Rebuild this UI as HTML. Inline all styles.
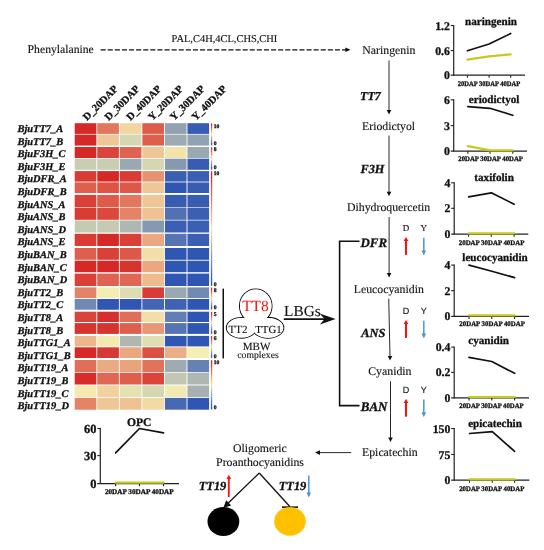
<!DOCTYPE html>
<html><head><meta charset="utf-8"><title>Figure</title>
<style>html,body{margin:0;padding:0;background:#fff;}svg{display:block;}</style></head>
<body>
<svg width="544" height="550" viewBox="0 0 544 550" text-rendering="geometricPrecision">
<rect width="544" height="550" fill="#fff"/>
<g shape-rendering="auto">
<rect x="74.70" y="123.20" width="21.65" height="10.70" fill="#d62826"/>
<rect x="97.25" y="123.20" width="21.65" height="10.70" fill="#e2775e"/>
<rect x="119.80" y="123.20" width="21.65" height="10.70" fill="#f1d6a1"/>
<rect x="142.35" y="123.20" width="21.65" height="10.70" fill="#de5b4a"/>
<rect x="164.90" y="123.20" width="21.65" height="10.70" fill="#92a2b2"/>
<rect x="187.45" y="123.20" width="21.65" height="10.70" fill="#375cb2"/>
<rect x="74.70" y="134.60" width="21.65" height="11.00" fill="#d62826"/>
<rect x="97.25" y="134.60" width="21.65" height="11.00" fill="#efc696"/>
<rect x="119.80" y="134.60" width="21.65" height="11.00" fill="#d5d6b2"/>
<rect x="142.35" y="134.60" width="21.65" height="11.00" fill="#df5f4d"/>
<rect x="164.90" y="134.60" width="21.65" height="11.00" fill="#9eabb2"/>
<rect x="187.45" y="134.60" width="21.65" height="11.00" fill="#92a2b2"/>
<rect x="74.70" y="147.00" width="21.65" height="11.00" fill="#d62826"/>
<rect x="97.25" y="147.00" width="21.65" height="11.00" fill="#da443a"/>
<rect x="119.80" y="147.00" width="21.65" height="11.00" fill="#df6350"/>
<rect x="142.35" y="147.00" width="21.65" height="11.00" fill="#efc696"/>
<rect x="164.90" y="147.00" width="21.65" height="11.00" fill="#f3e2aa"/>
<rect x="187.45" y="147.00" width="21.65" height="11.00" fill="#9aa8b2"/>
<rect x="74.70" y="158.70" width="21.65" height="11.10" fill="#c9cdb2"/>
<rect x="97.25" y="158.70" width="21.65" height="11.10" fill="#c9cdb2"/>
<rect x="119.80" y="158.70" width="21.65" height="11.10" fill="#9aa8b2"/>
<rect x="142.35" y="158.70" width="21.65" height="11.10" fill="#d5d6b2"/>
<rect x="164.90" y="158.70" width="21.65" height="11.10" fill="#8699b2"/>
<rect x="187.45" y="158.70" width="21.65" height="11.10" fill="#375cb2"/>
<rect x="74.70" y="171.10" width="21.65" height="10.50" fill="#d93c34"/>
<rect x="97.25" y="171.10" width="21.65" height="10.50" fill="#d62826"/>
<rect x="119.80" y="171.10" width="21.65" height="10.50" fill="#d93c34"/>
<rect x="142.35" y="171.10" width="21.65" height="10.50" fill="#e79372"/>
<rect x="164.90" y="171.10" width="21.65" height="10.50" fill="#3b5fb2"/>
<rect x="187.45" y="171.10" width="21.65" height="10.50" fill="#3b5fb2"/>
<rect x="74.70" y="182.40" width="21.65" height="10.60" fill="#df5f4d"/>
<rect x="97.25" y="182.40" width="21.65" height="10.60" fill="#dd5445"/>
<rect x="119.80" y="182.40" width="21.65" height="10.60" fill="#dd5848"/>
<rect x="142.35" y="182.40" width="21.65" height="10.60" fill="#efc696"/>
<rect x="164.90" y="182.40" width="21.65" height="10.60" fill="#2f56b2"/>
<rect x="187.45" y="182.40" width="21.65" height="10.60" fill="#375cb2"/>
<rect x="74.70" y="194.90" width="21.65" height="12.50" fill="#da4037"/>
<rect x="97.25" y="194.90" width="21.65" height="12.50" fill="#de5b4a"/>
<rect x="119.80" y="194.90" width="21.65" height="12.50" fill="#e2775e"/>
<rect x="142.35" y="194.90" width="21.65" height="12.50" fill="#efc696"/>
<rect x="164.90" y="194.90" width="21.65" height="12.50" fill="#375cb2"/>
<rect x="187.45" y="194.90" width="21.65" height="12.50" fill="#375cb2"/>
<rect x="74.70" y="208.00" width="21.65" height="11.80" fill="#d93c34"/>
<rect x="97.25" y="208.00" width="21.65" height="11.80" fill="#db483c"/>
<rect x="119.80" y="208.00" width="21.65" height="11.80" fill="#e48366"/>
<rect x="142.35" y="208.00" width="21.65" height="11.80" fill="#eec293"/>
<rect x="164.90" y="208.00" width="21.65" height="11.80" fill="#5371b2"/>
<rect x="187.45" y="208.00" width="21.65" height="11.80" fill="#3b5fb2"/>
<rect x="74.70" y="220.50" width="21.65" height="12.00" fill="#c5cab2"/>
<rect x="97.25" y="220.50" width="21.65" height="12.00" fill="#c5cab2"/>
<rect x="119.80" y="220.50" width="21.65" height="12.00" fill="#aeb7b2"/>
<rect x="142.35" y="220.50" width="21.65" height="12.00" fill="#8699b2"/>
<rect x="164.90" y="220.50" width="21.65" height="12.00" fill="#3b5fb2"/>
<rect x="187.45" y="220.50" width="21.65" height="12.00" fill="#3b5fb2"/>
<rect x="74.70" y="233.80" width="21.65" height="12.20" fill="#d93c34"/>
<rect x="97.25" y="233.80" width="21.65" height="12.20" fill="#d62826"/>
<rect x="119.80" y="233.80" width="21.65" height="12.20" fill="#da4037"/>
<rect x="142.35" y="233.80" width="21.65" height="12.20" fill="#eaa780"/>
<rect x="164.90" y="233.80" width="21.65" height="12.20" fill="#5774b2"/>
<rect x="187.45" y="233.80" width="21.65" height="12.20" fill="#3b5fb2"/>
<rect x="74.70" y="248.00" width="21.65" height="11.80" fill="#df5f4d"/>
<rect x="97.25" y="248.00" width="21.65" height="11.80" fill="#da4037"/>
<rect x="119.80" y="248.00" width="21.65" height="11.80" fill="#dd5848"/>
<rect x="142.35" y="248.00" width="21.65" height="11.80" fill="#f3dea7"/>
<rect x="164.90" y="248.00" width="21.65" height="11.80" fill="#2f56b2"/>
<rect x="187.45" y="248.00" width="21.65" height="11.80" fill="#2f56b2"/>
<rect x="74.70" y="260.70" width="21.65" height="11.50" fill="#d62826"/>
<rect x="97.25" y="260.70" width="21.65" height="11.50" fill="#d62826"/>
<rect x="119.80" y="260.70" width="21.65" height="11.50" fill="#d8342e"/>
<rect x="142.35" y="260.70" width="21.65" height="11.50" fill="#eaa780"/>
<rect x="164.90" y="260.70" width="21.65" height="11.50" fill="#2f56b2"/>
<rect x="187.45" y="260.70" width="21.65" height="11.50" fill="#2f56b2"/>
<rect x="74.70" y="273.60" width="21.65" height="12.40" fill="#da4037"/>
<rect x="97.25" y="273.60" width="21.65" height="12.40" fill="#df6350"/>
<rect x="119.80" y="273.60" width="21.65" height="12.40" fill="#e06753"/>
<rect x="142.35" y="273.60" width="21.65" height="12.40" fill="#edbb8e"/>
<rect x="164.90" y="273.60" width="21.65" height="12.40" fill="#2f56b2"/>
<rect x="187.45" y="273.60" width="21.65" height="12.40" fill="#2f56b2"/>
<rect x="74.70" y="287.40" width="21.65" height="10.70" fill="#e48366"/>
<rect x="97.25" y="287.40" width="21.65" height="10.70" fill="#f5eeb2"/>
<rect x="119.80" y="287.40" width="21.65" height="10.70" fill="#dddcb2"/>
<rect x="142.35" y="287.40" width="21.65" height="10.70" fill="#d93c34"/>
<rect x="164.90" y="287.40" width="21.65" height="10.70" fill="#9aa8b2"/>
<rect x="187.45" y="287.40" width="21.65" height="10.70" fill="#728ab2"/>
<rect x="74.70" y="299.00" width="21.65" height="10.75" fill="#728ab2"/>
<rect x="97.25" y="299.00" width="21.65" height="10.75" fill="#2f56b2"/>
<rect x="119.80" y="299.00" width="21.65" height="10.75" fill="#2f56b2"/>
<rect x="142.35" y="299.00" width="21.65" height="10.75" fill="#4365b2"/>
<rect x="164.90" y="299.00" width="21.65" height="10.75" fill="#3f62b2"/>
<rect x="187.45" y="299.00" width="21.65" height="10.75" fill="#2f56b2"/>
<rect x="74.70" y="311.70" width="21.65" height="10.30" fill="#da443a"/>
<rect x="97.25" y="311.70" width="21.65" height="10.30" fill="#d7302c"/>
<rect x="119.80" y="311.70" width="21.65" height="10.30" fill="#e16f58"/>
<rect x="142.35" y="311.70" width="21.65" height="10.30" fill="#f3dea7"/>
<rect x="164.90" y="311.70" width="21.65" height="10.30" fill="#627eb2"/>
<rect x="187.45" y="311.70" width="21.65" height="10.30" fill="#2f56b2"/>
<rect x="74.70" y="323.10" width="21.65" height="10.80" fill="#d8342e"/>
<rect x="97.25" y="323.10" width="21.65" height="10.80" fill="#d8342e"/>
<rect x="119.80" y="323.10" width="21.65" height="10.80" fill="#df5f4d"/>
<rect x="142.35" y="323.10" width="21.65" height="10.80" fill="#e79774"/>
<rect x="164.90" y="323.10" width="21.65" height="10.80" fill="#5774b2"/>
<rect x="187.45" y="323.10" width="21.65" height="10.80" fill="#2f56b2"/>
<rect x="74.70" y="335.90" width="21.65" height="10.50" fill="#ecb78b"/>
<rect x="97.25" y="335.90" width="21.65" height="10.50" fill="#f4eaaf"/>
<rect x="119.80" y="335.90" width="21.65" height="10.50" fill="#aeb7b2"/>
<rect x="142.35" y="335.90" width="21.65" height="10.50" fill="#e1dfb2"/>
<rect x="164.90" y="335.90" width="21.65" height="10.50" fill="#2f56b2"/>
<rect x="187.45" y="335.90" width="21.65" height="10.50" fill="#2f56b2"/>
<rect x="74.70" y="347.30" width="21.65" height="10.70" fill="#d62826"/>
<rect x="97.25" y="347.30" width="21.65" height="10.70" fill="#d83831"/>
<rect x="119.80" y="347.30" width="21.65" height="10.70" fill="#eaa780"/>
<rect x="142.35" y="347.30" width="21.65" height="10.70" fill="#dc5042"/>
<rect x="164.90" y="347.30" width="21.65" height="10.70" fill="#ebaf85"/>
<rect x="187.45" y="347.30" width="21.65" height="10.70" fill="#f5eeb2"/>
<rect x="74.70" y="360.00" width="21.65" height="12.10" fill="#e16f58"/>
<rect x="97.25" y="360.00" width="21.65" height="12.10" fill="#eaab82"/>
<rect x="119.80" y="360.00" width="21.65" height="12.10" fill="#e9a37d"/>
<rect x="142.35" y="360.00" width="21.65" height="12.10" fill="#e2735b"/>
<rect x="164.90" y="360.00" width="21.65" height="12.10" fill="#9eabb2"/>
<rect x="187.45" y="360.00" width="21.65" height="12.10" fill="#6681b2"/>
<rect x="74.70" y="372.80" width="21.65" height="11.70" fill="#d72c29"/>
<rect x="97.25" y="372.80" width="21.65" height="11.70" fill="#e06753"/>
<rect x="119.80" y="372.80" width="21.65" height="11.70" fill="#df5f4d"/>
<rect x="142.35" y="372.80" width="21.65" height="11.70" fill="#da443a"/>
<rect x="164.90" y="372.80" width="21.65" height="11.70" fill="#c2c6b2"/>
<rect x="187.45" y="372.80" width="21.65" height="11.70" fill="#aeb7b2"/>
<rect x="74.70" y="385.50" width="21.65" height="11.50" fill="#f4eaaf"/>
<rect x="97.25" y="385.50" width="21.65" height="11.50" fill="#f1d29e"/>
<rect x="119.80" y="385.50" width="21.65" height="11.50" fill="#e5e2b2"/>
<rect x="142.35" y="385.50" width="21.65" height="11.50" fill="#d5d6b2"/>
<rect x="164.90" y="385.50" width="21.65" height="11.50" fill="#f1ebb2"/>
<rect x="187.45" y="385.50" width="21.65" height="11.50" fill="#a6b1b2"/>
<rect x="74.70" y="397.90" width="21.65" height="11.80" fill="#e48366"/>
<rect x="97.25" y="397.90" width="21.65" height="11.80" fill="#efc696"/>
<rect x="119.80" y="397.90" width="21.65" height="11.80" fill="#eec293"/>
<rect x="142.35" y="397.90" width="21.65" height="11.80" fill="#f2daa4"/>
<rect x="164.90" y="397.90" width="21.65" height="11.80" fill="#4768b2"/>
<rect x="187.45" y="397.90" width="21.65" height="11.80" fill="#2f56b2"/>
</g>
<text x="17.5" y="132.05" font-family='"Liberation Serif","Times New Roman",serif' font-size="10.4" font-weight="bold" font-style="italic" text-anchor="start" fill="#111"  stroke="#111" stroke-width="0.3">BjuTT7_A</text>
<text x="17.5" y="144.65" font-family='"Liberation Serif","Times New Roman",serif' font-size="10.4" font-weight="bold" font-style="italic" text-anchor="start" fill="#111"  stroke="#111" stroke-width="0.3">BjuTT7_B</text>
<text x="17.5" y="157.25" font-family='"Liberation Serif","Times New Roman",serif' font-size="10.4" font-weight="bold" font-style="italic" text-anchor="start" fill="#111"  stroke="#111" stroke-width="0.3">BjuF3H_C</text>
<text x="17.5" y="169.85" font-family='"Liberation Serif","Times New Roman",serif' font-size="10.4" font-weight="bold" font-style="italic" text-anchor="start" fill="#111"  stroke="#111" stroke-width="0.3">BjuF3H_E</text>
<text x="17.5" y="182.45" font-family='"Liberation Serif","Times New Roman",serif' font-size="10.4" font-weight="bold" font-style="italic" text-anchor="start" fill="#111"  stroke="#111" stroke-width="0.3">BjuDFR_A</text>
<text x="17.5" y="195.05" font-family='"Liberation Serif","Times New Roman",serif' font-size="10.4" font-weight="bold" font-style="italic" text-anchor="start" fill="#111"  stroke="#111" stroke-width="0.3">BjuDFR_B</text>
<text x="17.5" y="207.65" font-family='"Liberation Serif","Times New Roman",serif' font-size="10.4" font-weight="bold" font-style="italic" text-anchor="start" fill="#111"  stroke="#111" stroke-width="0.3">BjuANS_A</text>
<text x="17.5" y="220.25" font-family='"Liberation Serif","Times New Roman",serif' font-size="10.4" font-weight="bold" font-style="italic" text-anchor="start" fill="#111"  stroke="#111" stroke-width="0.3">BjuANS_B</text>
<text x="17.5" y="232.85" font-family='"Liberation Serif","Times New Roman",serif' font-size="10.4" font-weight="bold" font-style="italic" text-anchor="start" fill="#111"  stroke="#111" stroke-width="0.3">BjuANS_D</text>
<text x="17.5" y="245.45" font-family='"Liberation Serif","Times New Roman",serif' font-size="10.4" font-weight="bold" font-style="italic" text-anchor="start" fill="#111"  stroke="#111" stroke-width="0.3">BjuANS_E</text>
<text x="17.5" y="258.05" font-family='"Liberation Serif","Times New Roman",serif' font-size="10.4" font-weight="bold" font-style="italic" text-anchor="start" fill="#111"  stroke="#111" stroke-width="0.3">BjuBAN_B</text>
<text x="17.5" y="270.65" font-family='"Liberation Serif","Times New Roman",serif' font-size="10.4" font-weight="bold" font-style="italic" text-anchor="start" fill="#111"  stroke="#111" stroke-width="0.3">BjuBAN_C</text>
<text x="17.5" y="283.25" font-family='"Liberation Serif","Times New Roman",serif' font-size="10.4" font-weight="bold" font-style="italic" text-anchor="start" fill="#111"  stroke="#111" stroke-width="0.3">BjuBAN_D</text>
<text x="17.5" y="295.85" font-family='"Liberation Serif","Times New Roman",serif' font-size="10.4" font-weight="bold" font-style="italic" text-anchor="start" fill="#111"  stroke="#111" stroke-width="0.3">BjuTT2_B</text>
<text x="17.5" y="308.45" font-family='"Liberation Serif","Times New Roman",serif' font-size="10.4" font-weight="bold" font-style="italic" text-anchor="start" fill="#111"  stroke="#111" stroke-width="0.3">BjuTT2_C</text>
<text x="17.5" y="321.05" font-family='"Liberation Serif","Times New Roman",serif' font-size="10.4" font-weight="bold" font-style="italic" text-anchor="start" fill="#111"  stroke="#111" stroke-width="0.3">BjuTT8_A</text>
<text x="17.5" y="333.65" font-family='"Liberation Serif","Times New Roman",serif' font-size="10.4" font-weight="bold" font-style="italic" text-anchor="start" fill="#111"  stroke="#111" stroke-width="0.3">BjuTT8_B</text>
<text x="17.5" y="346.25" font-family='"Liberation Serif","Times New Roman",serif' font-size="10.4" font-weight="bold" font-style="italic" text-anchor="start" fill="#111"  stroke="#111" stroke-width="0.3">BjuTTG1_A</text>
<text x="17.5" y="358.85" font-family='"Liberation Serif","Times New Roman",serif' font-size="10.4" font-weight="bold" font-style="italic" text-anchor="start" fill="#111"  stroke="#111" stroke-width="0.3">BjuTTG1_B</text>
<text x="17.5" y="371.45" font-family='"Liberation Serif","Times New Roman",serif' font-size="10.4" font-weight="bold" font-style="italic" text-anchor="start" fill="#111"  stroke="#111" stroke-width="0.3">BjuTT19_A</text>
<text x="17.5" y="384.05" font-family='"Liberation Serif","Times New Roman",serif' font-size="10.4" font-weight="bold" font-style="italic" text-anchor="start" fill="#111"  stroke="#111" stroke-width="0.3">BjuTT19_B</text>
<text x="17.5" y="396.65" font-family='"Liberation Serif","Times New Roman",serif' font-size="10.4" font-weight="bold" font-style="italic" text-anchor="start" fill="#111"  stroke="#111" stroke-width="0.3">BjuTT19_C</text>
<text x="17.5" y="409.25" font-family='"Liberation Serif","Times New Roman",serif' font-size="10.4" font-weight="bold" font-style="italic" text-anchor="start" fill="#111"  stroke="#111" stroke-width="0.3">BjuTT19_D</text>
<text transform="translate(87.1,121.0) rotate(-45)" font-family='"Liberation Serif","Times New Roman",serif' font-size="10.4" font-weight="bold" fill="#111" stroke="#111" stroke-width="0.3">D_20DAP</text>
<text transform="translate(108.8,121.0) rotate(-45)" font-family='"Liberation Serif","Times New Roman",serif' font-size="10.4" font-weight="bold" fill="#111" stroke="#111" stroke-width="0.3">D_30DAP</text>
<text transform="translate(130.6,121.0) rotate(-45)" font-family='"Liberation Serif","Times New Roman",serif' font-size="10.4" font-weight="bold" fill="#111" stroke="#111" stroke-width="0.3">D_40DAP</text>
<text transform="translate(152.3,121.0) rotate(-45)" font-family='"Liberation Serif","Times New Roman",serif' font-size="10.4" font-weight="bold" fill="#111" stroke="#111" stroke-width="0.3">Y_20DAP</text>
<text transform="translate(174.1,121.0) rotate(-45)" font-family='"Liberation Serif","Times New Roman",serif' font-size="10.4" font-weight="bold" fill="#111" stroke="#111" stroke-width="0.3">Y_30DAP</text>
<text transform="translate(195.8,121.0) rotate(-45)" font-family='"Liberation Serif","Times New Roman",serif' font-size="10.4" font-weight="bold" fill="#111" stroke="#111" stroke-width="0.3">Y_40DAP</text>
<defs><linearGradient id="cb" x1="0" y1="0" x2="0" y2="1"><stop offset="0" stop-color="#e01010"/><stop offset="0.5" stop-color="#f8e8a0"/><stop offset="1" stop-color="#1848c0"/></linearGradient></defs>
<rect x="210.9" y="123.5" width="1.3" height="21.8" fill="url(#cb)"/>
<text x="213.8" y="127.5" font-family='"Liberation Serif","Times New Roman",serif' font-size="5.6" font-weight="bold" font-style="normal" text-anchor="start" fill="#111"  stroke="#111" stroke-width="0.3">10</text>
<text x="213.8" y="145.2" font-family='"Liberation Serif","Times New Roman",serif' font-size="5.6" font-weight="bold" font-style="normal" text-anchor="start" fill="#111"  stroke="#111" stroke-width="0.3">0</text>
<rect x="210.9" y="147.3" width="1.3" height="22.2" fill="url(#cb)"/>
<text x="213.8" y="151.3" font-family='"Liberation Serif","Times New Roman",serif' font-size="5.6" font-weight="bold" font-style="normal" text-anchor="start" fill="#111"  stroke="#111" stroke-width="0.3">8</text>
<text x="213.8" y="169.4" font-family='"Liberation Serif","Times New Roman",serif' font-size="5.6" font-weight="bold" font-style="normal" text-anchor="start" fill="#111"  stroke="#111" stroke-width="0.3">0</text>
<rect x="210.9" y="171.3" width="1.3" height="114.5" fill="url(#cb)"/>
<text x="213.8" y="175.3" font-family='"Liberation Serif","Times New Roman",serif' font-size="5.6" font-weight="bold" font-style="normal" text-anchor="start" fill="#111"  stroke="#111" stroke-width="0.3">10</text>
<text x="213.8" y="285.7" font-family='"Liberation Serif","Times New Roman",serif' font-size="5.6" font-weight="bold" font-style="normal" text-anchor="start" fill="#111"  stroke="#111" stroke-width="0.3">0</text>
<rect x="210.9" y="287.6" width="1.3" height="21.9" fill="url(#cb)"/>
<text x="213.8" y="291.6" font-family='"Liberation Serif","Times New Roman",serif' font-size="5.6" font-weight="bold" font-style="normal" text-anchor="start" fill="#111"  stroke="#111" stroke-width="0.3">8</text>
<text x="213.8" y="309.4" font-family='"Liberation Serif","Times New Roman",serif' font-size="5.6" font-weight="bold" font-style="normal" text-anchor="start" fill="#111"  stroke="#111" stroke-width="0.3">0</text>
<rect x="210.9" y="311.9" width="1.3" height="21.8" fill="url(#cb)"/>
<text x="213.8" y="315.9" font-family='"Liberation Serif","Times New Roman",serif' font-size="5.6" font-weight="bold" font-style="normal" text-anchor="start" fill="#111"  stroke="#111" stroke-width="0.3">5</text>
<text x="213.8" y="333.6" font-family='"Liberation Serif","Times New Roman",serif' font-size="5.6" font-weight="bold" font-style="normal" text-anchor="start" fill="#111"  stroke="#111" stroke-width="0.3">0</text>
<rect x="210.9" y="336.1" width="1.3" height="21.7" fill="url(#cb)"/>
<text x="213.8" y="340.1" font-family='"Liberation Serif","Times New Roman",serif' font-size="5.6" font-weight="bold" font-style="normal" text-anchor="start" fill="#111"  stroke="#111" stroke-width="0.3">6</text>
<text x="213.8" y="357.7" font-family='"Liberation Serif","Times New Roman",serif' font-size="5.6" font-weight="bold" font-style="normal" text-anchor="start" fill="#111"  stroke="#111" stroke-width="0.3">0</text>
<rect x="210.9" y="360.2" width="1.3" height="49.3" fill="url(#cb)"/>
<text x="213.8" y="364.2" font-family='"Liberation Serif","Times New Roman",serif' font-size="5.6" font-weight="bold" font-style="normal" text-anchor="start" fill="#111"  stroke="#111" stroke-width="0.3">10</text>
<text x="213.8" y="409.4" font-family='"Liberation Serif","Times New Roman",serif' font-size="5.6" font-weight="bold" font-style="normal" text-anchor="start" fill="#111"  stroke="#111" stroke-width="0.3">0</text>
<rect x="222.5" y="288.6" width="1.5" height="69.8" fill="#111"/>
<text x="27.6" y="53.3" font-family='"Liberation Serif","Times New Roman",serif' font-size="11.7" font-weight="normal" font-style="normal" text-anchor="start" fill="#111"  stroke="#111" stroke-width="0.12">Phenylalanine</text>
<text x="171.6" y="41.6" font-family='"Liberation Serif","Times New Roman",serif' font-size="10.45" font-weight="normal" font-style="normal" text-anchor="start" fill="#111"  stroke="#111" stroke-width="0.12">PAL,C4H,4CL,CHS,CHI</text>
<line x1="100.6" y1="49.85" x2="346" y2="49.85" stroke="#111" stroke-width="1.2" stroke-dasharray="5.1 2"/>
<polygon points="350.5,49.8 345.4,47.5 345.4,52.1" fill="#111" />
<text x="362.3" y="53.75" font-family='"Liberation Serif","Times New Roman",serif' font-size="11.8" font-weight="normal" font-style="normal" text-anchor="start" fill="#111"  stroke="#111" stroke-width="0.12">Naringenin</text>
<line x1="389.0" y1="60.5" x2="389.0" y2="111.5" stroke="#111" stroke-width="0.9" />
<polygon points="389.0,114.5 386.7,110.0 391.3,110.0" fill="#111" />
<text x="360" y="99.5" font-family='"Liberation Serif","Times New Roman",serif' font-size="12.1" font-weight="bold" font-style="italic" text-anchor="start" fill="#111"  stroke="#111" stroke-width="0.3">TT7</text>
<text x="362" y="129.5" font-family='"Liberation Serif","Times New Roman",serif' font-size="11.8" font-weight="normal" font-style="normal" text-anchor="start" fill="#111"  stroke="#111" stroke-width="0.12">Eriodictyol</text>
<line x1="389.0" y1="135.5" x2="389.0" y2="193.3" stroke="#111" stroke-width="0.9" />
<polygon points="389.0,196.3 386.7,191.8 391.3,191.8" fill="#111" />
<text x="360.5" y="172.5" font-family='"Liberation Serif","Times New Roman",serif' font-size="12.3" font-weight="bold" font-style="italic" text-anchor="start" fill="#111"  stroke="#111" stroke-width="0.3">F3H</text>
<text x="347" y="210.75" font-family='"Liberation Serif","Times New Roman",serif' font-size="11.8" font-weight="normal" font-style="normal" text-anchor="start" fill="#111"  stroke="#111" stroke-width="0.12">Dihydroquercetin</text>
<line x1="389.1" y1="217" x2="389.1" y2="274.5" stroke="#111" stroke-width="0.9" />
<polygon points="389.1,277.5 386.8,273.0 391.40000000000003,273.0" fill="#111" />
<text x="360.5" y="247" font-family='"Liberation Serif","Times New Roman",serif' font-size="12.9" font-weight="bold" font-style="italic" text-anchor="start" fill="#111"  stroke="#111" stroke-width="0.3">DFR</text>
<text x="353.75" y="292.5" font-family='"Liberation Serif","Times New Roman",serif' font-size="11.8" font-weight="normal" font-style="normal" text-anchor="start" fill="#111"  stroke="#111" stroke-width="0.12">Leucocyanidin</text>
<line x1="388.75" y1="298.75" x2="390" y2="357.5" stroke="#111" stroke-width="0.9" />
<polygon points="390,360.5 387.7,356.0 392.3,356.0" fill="#111" />
<text x="361.25" y="337" font-family='"Liberation Serif","Times New Roman",serif' font-size="12.4" font-weight="bold" font-style="italic" text-anchor="start" fill="#111"  stroke="#111" stroke-width="0.3">ANS</text>
<text x="368.25" y="375" font-family='"Liberation Serif","Times New Roman",serif' font-size="11.8" font-weight="normal" font-style="normal" text-anchor="start" fill="#111"  stroke="#111" stroke-width="0.12">Cyanidin</text>
<line x1="390.5" y1="381.25" x2="390.5" y2="439" stroke="#111" stroke-width="0.9" />
<polygon points="390.5,442 388.2,437.5 392.8,437.5" fill="#111" />
<text x="360.75" y="410.5" font-family='"Liberation Serif","Times New Roman",serif' font-size="13" font-weight="bold" font-style="italic" text-anchor="start" fill="#111"  stroke="#111" stroke-width="0.3">BAN</text>
<text x="362" y="456.25" font-family='"Liberation Serif","Times New Roman",serif' font-size="11.8" font-weight="normal" font-style="normal" text-anchor="start" fill="#111"  stroke="#111" stroke-width="0.12">Epicatechin</text>
<polyline points="359.5,241.25 339.6,241.25 339.6,405.6 359.5,405.6" fill="none" stroke="#111" stroke-width="1.6"/>
<text x="406" y="230.7" font-family='"Liberation Serif","Times New Roman",serif' font-size="9" font-weight="normal" font-style="normal" text-anchor="middle" fill="#111"  stroke="#111" stroke-width="0.12">D</text>
<text x="423.7" y="230.7" font-family='"Liberation Serif","Times New Roman",serif' font-size="9" font-weight="normal" font-style="normal" text-anchor="middle" fill="#111"  stroke="#111" stroke-width="0.12">Y</text>
<rect x="405" y="239.9" width="2" height="15.0" fill="#ff1010"/>
<polygon points="406,236.9 403.6,241.1 408.4,241.1" fill="#ff1010" />
<rect x="423.05" y="237.7" width="1.5" height="14.8" fill="#4f94d4"/>
<polygon points="423.8,255.5 421.5,250.5 426.1,250.5" fill="#4f94d4" />
<text x="406" y="313.7" font-family='"Liberation Sans",Arial,sans-serif' font-size="9" font-weight="normal" font-style="normal" text-anchor="middle" fill="#111"  stroke="#111" stroke-width="0.12">D</text>
<text x="423.7" y="313.7" font-family='"Liberation Sans",Arial,sans-serif' font-size="9" font-weight="normal" font-style="normal" text-anchor="middle" fill="#111"  stroke="#111" stroke-width="0.12">Y</text>
<rect x="405" y="322.9" width="2" height="15.0" fill="#ff1010"/>
<polygon points="406,319.9 403.6,324.09999999999997 408.4,324.09999999999997" fill="#ff1010" />
<rect x="423.05" y="320.7" width="1.5" height="14.8" fill="#4f94d4"/>
<polygon points="423.8,338.5 421.5,333.5 426.1,333.5" fill="#4f94d4" />
<text x="406" y="392.5" font-family='"Liberation Sans",Arial,sans-serif' font-size="9" font-weight="normal" font-style="normal" text-anchor="middle" fill="#111"  stroke="#111" stroke-width="0.12">D</text>
<text x="423.7" y="392.5" font-family='"Liberation Sans",Arial,sans-serif' font-size="9" font-weight="normal" font-style="normal" text-anchor="middle" fill="#111"  stroke="#111" stroke-width="0.12">Y</text>
<rect x="405" y="401.7" width="2" height="15.0" fill="#ff1010"/>
<polygon points="406,398.7 403.6,402.9 408.4,402.9" fill="#ff1010" />
<rect x="423.05" y="399.5" width="1.5" height="14.8" fill="#4f94d4"/>
<polygon points="423.8,417.3 421.5,412.3 426.1,412.3" fill="#4f94d4" />
<line x1="351.2" y1="452.6" x2="319" y2="452.6" stroke="#111" stroke-width="0.9" />
<polygon points="315,452.6 320,450.3 320,454.9" fill="#111" />
<text x="259.8" y="452.4" font-family='"Liberation Serif","Times New Roman",serif' font-size="11.8" font-weight="normal" font-style="normal" text-anchor="middle" fill="#111"  stroke="#111" stroke-width="0.12">Oligomeric</text>
<text x="260" y="465.6" font-family='"Liberation Serif","Times New Roman",serif' font-size="11.8" font-weight="normal" font-style="normal" text-anchor="middle" fill="#111"  stroke="#111" stroke-width="0.12">Proanthocyanidins</text>
<line x1="259.25" y1="473" x2="226.5" y2="504.8" stroke="#111" stroke-width="1.3" />
<polygon points="223.2,508 226.2,500.3 231.2,505.4" fill="#111" />
<line x1="259.25" y1="473" x2="290" y2="506.75" stroke="#111" stroke-width="1.3" />
<line x1="282" y1="507.2" x2="298" y2="507.2" stroke="#111" stroke-width="1.7" />
<ellipse cx="223.4" cy="521.5" rx="15.9" ry="14.6" fill="#000"/>
<ellipse cx="290" cy="521.4" rx="15.7" ry="14.2" fill="#ffc000" stroke="#ffd040" stroke-width="0.6"/>
<text x="198.75" y="490" font-family='"Liberation Serif","Times New Roman",serif' font-size="12.4" font-weight="bold" font-style="italic" text-anchor="start" fill="#111"  stroke="#111" stroke-width="0.3">TT19</text>
<text x="278.75" y="490" font-family='"Liberation Serif","Times New Roman",serif' font-size="12.4" font-weight="bold" font-style="italic" text-anchor="start" fill="#111"  stroke="#111" stroke-width="0.3">TT19</text>
<rect x="227.9" y="478" width="1.8" height="19" fill="#ff1010"/>
<polygon points="228.8,474.8 226.5,479 231.1,479" fill="#ff1010" />
<rect x="308.05" y="475.5" width="1.5" height="18" fill="#4f94d4"/>
<polygon points="308.8,497.6 306.5,492.4 311.1,492.4" fill="#4f94d4" />
<g fill="#fff" stroke="#111" stroke-width="1.1"><ellipse cx="255.75" cy="306" rx="16.25" ry="17"/><ellipse cx="241.5" cy="327.8" rx="15.1" ry="10.3"/><ellipse cx="268" cy="327.8" rx="15.8" ry="10.4"/></g>
<g fill="#fff" stroke="none"><ellipse cx="255.75" cy="306" rx="15.75" ry="16.5"/><ellipse cx="241.5" cy="327.8" rx="14.6" ry="9.8"/><ellipse cx="268" cy="327.8" rx="15.3" ry="9.9"/><circle cx="255" cy="322.5" r="2.5"/></g>
<text x="255.5" y="310.5" font-family='"Liberation Serif","Times New Roman",serif' font-size="15.5" font-weight="normal" font-style="normal" text-anchor="middle" fill="#ff1010" >TT8</text>
<text x="238.1" y="332.6" font-family='"Liberation Serif","Times New Roman",serif' font-size="11" font-weight="normal" font-style="normal" text-anchor="middle" fill="#111"  stroke="#111" stroke-width="0.12">TT2</text>
<text x="268.4" y="332.6" font-family='"Liberation Serif","Times New Roman",serif' font-size="10.8" font-weight="normal" font-style="normal" text-anchor="middle" fill="#111"  stroke="#111" stroke-width="0.12">TTG1</text>
<text x="256.6" y="349.6" font-family='"Liberation Serif","Times New Roman",serif' font-size="11.1" font-weight="normal" font-style="normal" text-anchor="middle" fill="#111"  stroke="#111" stroke-width="0.12">MBW</text>
<text x="258" y="358.1" font-family='"Liberation Serif","Times New Roman",serif' font-size="9.7" font-weight="normal" font-style="normal" text-anchor="middle" fill="#111"  stroke="#111" stroke-width="0.12">complexes</text>
<text x="284.1" y="316.3" font-family='"Liberation Serif","Times New Roman",serif' font-size="15.3" font-weight="normal" font-style="normal" text-anchor="start" fill="#111"  stroke="#111" stroke-width="0.12">LBGs</text>
<line x1="283.75" y1="319.1" x2="326" y2="319.1" stroke="#111" stroke-width="1.9" />
<polygon points="335.6,319.1 319.6,313.6 324.6,319.1 319.9,324.5" fill="#111" />
<line x1="453.7" y1="25.0" x2="453.7" y2="75.7" stroke="#222" stroke-width="1.2" />
<line x1="450.7" y1="75.2" x2="525" y2="75.2" stroke="#222" stroke-width="1.2" />
<line x1="450.7" y1="25.5" x2="453.7" y2="25.5" stroke="#222" stroke-width="1.1" />
<line x1="450.7" y1="50.6" x2="453.7" y2="50.6" stroke="#222" stroke-width="1.1" />
<line x1="467.4" y1="75.2" x2="467.4" y2="77.8" stroke="#222" stroke-width="1.1" />
<line x1="489.1" y1="75.2" x2="489.1" y2="77.8" stroke="#222" stroke-width="1.1" />
<line x1="510.7" y1="75.2" x2="510.7" y2="77.8" stroke="#222" stroke-width="1.1" />
<text x="449.9" y="29.5" font-family='"Liberation Serif","Times New Roman",serif' font-size="11.8" font-weight="bold" font-style="normal" text-anchor="end" fill="#111"  stroke="#111" stroke-width="0.3">1.2</text>
<text x="449.9" y="54.6" font-family='"Liberation Serif","Times New Roman",serif' font-size="11.8" font-weight="bold" font-style="normal" text-anchor="end" fill="#111"  stroke="#111" stroke-width="0.3">0.6</text>
<text x="449.9" y="79.2" font-family='"Liberation Serif","Times New Roman",serif' font-size="11.8" font-weight="bold" font-style="normal" text-anchor="end" fill="#111"  stroke="#111" stroke-width="0.3">0</text>
<text x="491" y="25.3" font-family='"Liberation Serif","Times New Roman",serif' font-size="11.1" font-weight="bold" font-style="normal" text-anchor="middle" fill="#111"  stroke="#111" stroke-width="0.3">naringenin</text>
<polyline points="467.4,59.7 489.1,56.3 510.7,54.3" fill="none" stroke="#c9c820" stroke-width="2.2" stroke-linecap="round" stroke-linejoin="round"/>
<polyline points="467.4,50.8 489.1,44 510.7,33.5" fill="none" stroke="#111" stroke-width="1.7" stroke-linecap="round" stroke-linejoin="round"/>
<text x="489" y="85.5" font-family='"Liberation Serif","Times New Roman",serif' font-size="7" font-weight="bold" font-style="normal" text-anchor="middle" fill="#111" textLength="62.7" lengthAdjust="spacingAndGlyphs"  stroke="#111" stroke-width="0.3">20DAP 30DAP 40DAP</text>
<line x1="453.7" y1="99.3" x2="453.7" y2="151.6" stroke="#222" stroke-width="1.2" />
<line x1="450.7" y1="151.1" x2="527" y2="151.1" stroke="#222" stroke-width="1.2" />
<line x1="450.7" y1="99.8" x2="453.7" y2="99.8" stroke="#222" stroke-width="1.1" />
<line x1="450.7" y1="125.6" x2="453.7" y2="125.6" stroke="#222" stroke-width="1.1" />
<line x1="467.9" y1="151.1" x2="467.9" y2="153.7" stroke="#222" stroke-width="1.1" />
<line x1="490" y1="151.1" x2="490" y2="153.7" stroke="#222" stroke-width="1.1" />
<line x1="512.8" y1="151.1" x2="512.8" y2="153.7" stroke="#222" stroke-width="1.1" />
<text x="449.9" y="103.8" font-family='"Liberation Serif","Times New Roman",serif' font-size="11.8" font-weight="bold" font-style="normal" text-anchor="end" fill="#111"  stroke="#111" stroke-width="0.3">6</text>
<text x="449.9" y="129.6" font-family='"Liberation Serif","Times New Roman",serif' font-size="11.8" font-weight="bold" font-style="normal" text-anchor="end" fill="#111"  stroke="#111" stroke-width="0.3">3</text>
<text x="449.9" y="155.1" font-family='"Liberation Serif","Times New Roman",serif' font-size="11.8" font-weight="bold" font-style="normal" text-anchor="end" fill="#111"  stroke="#111" stroke-width="0.3">0</text>
<text x="494.1" y="102.8" font-family='"Liberation Serif","Times New Roman",serif' font-size="11.1" font-weight="bold" font-style="normal" text-anchor="middle" fill="#111"  stroke="#111" stroke-width="0.3">eriodictyol</text>
<polyline points="467.9,146.1 490,150.4 512.8,150.4" fill="none" stroke="#c9c820" stroke-width="2.2" stroke-linecap="round" stroke-linejoin="round"/>
<polyline points="467.9,106.7 490,108.3 512.8,115.3" fill="none" stroke="#111" stroke-width="1.7" stroke-linecap="round" stroke-linejoin="round"/>
<text x="490.6" y="160.7" font-family='"Liberation Serif","Times New Roman",serif' font-size="7" font-weight="bold" font-style="normal" text-anchor="middle" fill="#111" textLength="64.7" lengthAdjust="spacingAndGlyphs"  stroke="#111" stroke-width="0.3">20DAP 30DAP 40DAP</text>
<line x1="454.2" y1="182.3" x2="454.2" y2="234.6" stroke="#222" stroke-width="1.2" />
<line x1="451.2" y1="234.1" x2="528.3" y2="234.1" stroke="#222" stroke-width="1.2" />
<line x1="451.2" y1="182.8" x2="454.2" y2="182.8" stroke="#222" stroke-width="1.1" />
<line x1="451.2" y1="208.3" x2="454.2" y2="208.3" stroke="#222" stroke-width="1.1" />
<line x1="468.6" y1="234.1" x2="468.6" y2="236.7" stroke="#222" stroke-width="1.1" />
<line x1="491.3" y1="234.1" x2="491.3" y2="236.7" stroke="#222" stroke-width="1.1" />
<line x1="514.1" y1="234.1" x2="514.1" y2="236.7" stroke="#222" stroke-width="1.1" />
<text x="450.4" y="186.8" font-family='"Liberation Serif","Times New Roman",serif' font-size="11.8" font-weight="bold" font-style="normal" text-anchor="end" fill="#111"  stroke="#111" stroke-width="0.3">4</text>
<text x="450.4" y="212.3" font-family='"Liberation Serif","Times New Roman",serif' font-size="11.8" font-weight="bold" font-style="normal" text-anchor="end" fill="#111"  stroke="#111" stroke-width="0.3">2</text>
<text x="450.4" y="238.1" font-family='"Liberation Serif","Times New Roman",serif' font-size="11.8" font-weight="bold" font-style="normal" text-anchor="end" fill="#111"  stroke="#111" stroke-width="0.3">0</text>
<text x="494.1" y="180.5" font-family='"Liberation Serif","Times New Roman",serif' font-size="11.1" font-weight="bold" font-style="normal" text-anchor="middle" fill="#111"  stroke="#111" stroke-width="0.3">taxifolin</text>
<polyline points="468.6,233.3 514.1,233.3" fill="none" stroke="#c9c820" stroke-width="2.2" stroke-linecap="round" stroke-linejoin="round"/>
<polyline points="468.6,196.9 491.3,192.8 514.1,204.2" fill="none" stroke="#111" stroke-width="1.7" stroke-linecap="round" stroke-linejoin="round"/>
<text x="491.6" y="244.8" font-family='"Liberation Serif","Times New Roman",serif' font-size="7" font-weight="bold" font-style="normal" text-anchor="middle" fill="#111" textLength="65.6" lengthAdjust="spacingAndGlyphs"  stroke="#111" stroke-width="0.3">20DAP 30DAP 40DAP</text>
<line x1="454.2" y1="264.6" x2="454.2" y2="316.8" stroke="#222" stroke-width="1.2" />
<line x1="451.2" y1="316.3" x2="529" y2="316.3" stroke="#222" stroke-width="1.2" />
<line x1="451.2" y1="265.1" x2="454.2" y2="265.1" stroke="#222" stroke-width="1.1" />
<line x1="451.2" y1="290.6" x2="454.2" y2="290.6" stroke="#222" stroke-width="1.1" />
<line x1="469" y1="316.3" x2="469" y2="318.90000000000003" stroke="#222" stroke-width="1.1" />
<line x1="491.8" y1="316.3" x2="491.8" y2="318.90000000000003" stroke="#222" stroke-width="1.1" />
<line x1="514.6" y1="316.3" x2="514.6" y2="318.90000000000003" stroke="#222" stroke-width="1.1" />
<text x="450.4" y="269.1" font-family='"Liberation Serif","Times New Roman",serif' font-size="11.8" font-weight="bold" font-style="normal" text-anchor="end" fill="#111"  stroke="#111" stroke-width="0.3">4</text>
<text x="450.4" y="294.6" font-family='"Liberation Serif","Times New Roman",serif' font-size="11.8" font-weight="bold" font-style="normal" text-anchor="end" fill="#111"  stroke="#111" stroke-width="0.3">2</text>
<text x="450.4" y="320.3" font-family='"Liberation Serif","Times New Roman",serif' font-size="11.8" font-weight="bold" font-style="normal" text-anchor="end" fill="#111"  stroke="#111" stroke-width="0.3">0</text>
<text x="495" y="261.4" font-family='"Liberation Serif","Times New Roman",serif' font-size="11.1" font-weight="bold" font-style="normal" text-anchor="middle" fill="#111"  stroke="#111" stroke-width="0.3">leucocyanidin</text>
<polyline points="469,315.4 514.6,315.4" fill="none" stroke="#c9c820" stroke-width="2.2" stroke-linecap="round" stroke-linejoin="round"/>
<polyline points="469,265.1 491.8,271.2 514.6,277.6" fill="none" stroke="#111" stroke-width="1.7" stroke-linecap="round" stroke-linejoin="round"/>
<text x="492.1" y="326.4" font-family='"Liberation Serif","Times New Roman",serif' font-size="7" font-weight="bold" font-style="normal" text-anchor="middle" fill="#111" textLength="65.5" lengthAdjust="spacingAndGlyphs"  stroke="#111" stroke-width="0.3">20DAP 30DAP 40DAP</text>
<line x1="454.2" y1="346.6" x2="454.2" y2="398.4" stroke="#222" stroke-width="1.2" />
<line x1="451.2" y1="397.9" x2="529" y2="397.9" stroke="#222" stroke-width="1.2" />
<line x1="451.2" y1="347.1" x2="454.2" y2="347.1" stroke="#222" stroke-width="1.1" />
<line x1="451.2" y1="372.4" x2="454.2" y2="372.4" stroke="#222" stroke-width="1.1" />
<line x1="469" y1="397.9" x2="469" y2="400.5" stroke="#222" stroke-width="1.1" />
<line x1="491.8" y1="397.9" x2="491.8" y2="400.5" stroke="#222" stroke-width="1.1" />
<line x1="514.6" y1="397.9" x2="514.6" y2="400.5" stroke="#222" stroke-width="1.1" />
<text x="450.4" y="351.1" font-family='"Liberation Serif","Times New Roman",serif' font-size="11.8" font-weight="bold" font-style="normal" text-anchor="end" fill="#111"  stroke="#111" stroke-width="0.3">0.4</text>
<text x="450.4" y="376.4" font-family='"Liberation Serif","Times New Roman",serif' font-size="11.8" font-weight="bold" font-style="normal" text-anchor="end" fill="#111"  stroke="#111" stroke-width="0.3">0.2</text>
<text x="450.4" y="401.9" font-family='"Liberation Serif","Times New Roman",serif' font-size="11.8" font-weight="bold" font-style="normal" text-anchor="end" fill="#111"  stroke="#111" stroke-width="0.3">0</text>
<text x="488.7" y="343.8" font-family='"Liberation Serif","Times New Roman",serif' font-size="11.1" font-weight="bold" font-style="normal" text-anchor="middle" fill="#111"  stroke="#111" stroke-width="0.3">cyanidin</text>
<polyline points="469,397.0 514.6,397.0" fill="none" stroke="#c9c820" stroke-width="2.2" stroke-linecap="round" stroke-linejoin="round"/>
<polyline points="469,357.4 491.8,361.5 514.6,373.3" fill="none" stroke="#111" stroke-width="1.7" stroke-linecap="round" stroke-linejoin="round"/>
<text x="491.5" y="408.2" font-family='"Liberation Serif","Times New Roman",serif' font-size="7" font-weight="bold" font-style="normal" text-anchor="middle" fill="#111" textLength="64.3" lengthAdjust="spacingAndGlyphs"  stroke="#111" stroke-width="0.3">20DAP 30DAP 40DAP</text>
<line x1="454.2" y1="428.0" x2="454.2" y2="480.7" stroke="#222" stroke-width="1.2" />
<line x1="451.2" y1="480.2" x2="529.4" y2="480.2" stroke="#222" stroke-width="1.2" />
<line x1="451.2" y1="428.5" x2="454.2" y2="428.5" stroke="#222" stroke-width="1.1" />
<line x1="451.2" y1="454.5" x2="454.2" y2="454.5" stroke="#222" stroke-width="1.1" />
<line x1="469.5" y1="480.2" x2="469.5" y2="482.8" stroke="#222" stroke-width="1.1" />
<line x1="492.3" y1="480.2" x2="492.3" y2="482.8" stroke="#222" stroke-width="1.1" />
<line x1="514.6" y1="480.2" x2="514.6" y2="482.8" stroke="#222" stroke-width="1.1" />
<text x="450.4" y="432.5" font-family='"Liberation Serif","Times New Roman",serif' font-size="11.8" font-weight="bold" font-style="normal" text-anchor="end" fill="#111"  stroke="#111" stroke-width="0.3">150</text>
<text x="450.4" y="458.5" font-family='"Liberation Serif","Times New Roman",serif' font-size="11.8" font-weight="bold" font-style="normal" text-anchor="end" fill="#111"  stroke="#111" stroke-width="0.3">75</text>
<text x="450.4" y="484.2" font-family='"Liberation Serif","Times New Roman",serif' font-size="11.8" font-weight="bold" font-style="normal" text-anchor="end" fill="#111"  stroke="#111" stroke-width="0.3">0</text>
<text x="495" y="426.7" font-family='"Liberation Serif","Times New Roman",serif' font-size="11.1" font-weight="bold" font-style="normal" text-anchor="middle" fill="#111"  stroke="#111" stroke-width="0.3">epicatechin</text>
<polyline points="469.5,479.4 514.6,479.4" fill="none" stroke="#c9c820" stroke-width="2.2" stroke-linecap="round" stroke-linejoin="round"/>
<polyline points="469.5,433.5 492.3,431.7 514.6,451.3" fill="none" stroke="#111" stroke-width="1.7" stroke-linecap="round" stroke-linejoin="round"/>
<text x="491.8" y="490.5" font-family='"Liberation Serif","Times New Roman",serif' font-size="7" font-weight="bold" font-style="normal" text-anchor="middle" fill="#111" textLength="65.2" lengthAdjust="spacingAndGlyphs"  stroke="#111" stroke-width="0.3">20DAP 30DAP 40DAP</text>
<line x1="100.3" y1="428.0" x2="100.3" y2="484.1" stroke="#222" stroke-width="1.2" />
<line x1="97.3" y1="483.6" x2="179" y2="483.6" stroke="#222" stroke-width="1.2" />
<line x1="97.3" y1="428.5" x2="100.3" y2="428.5" stroke="#222" stroke-width="1.1" />
<line x1="97.3" y1="455.6" x2="100.3" y2="455.6" stroke="#222" stroke-width="1.1" />
<line x1="115.6" y1="483.6" x2="115.6" y2="486.20000000000005" stroke="#222" stroke-width="1.1" />
<line x1="139.5" y1="483.6" x2="139.5" y2="486.20000000000005" stroke="#222" stroke-width="1.1" />
<line x1="163.5" y1="483.6" x2="163.5" y2="486.20000000000005" stroke="#222" stroke-width="1.1" />
<text x="96.5" y="432.8" font-family='"Liberation Serif","Times New Roman",serif' font-size="12.4" font-weight="bold" font-style="normal" text-anchor="end" fill="#111"  stroke="#111" stroke-width="0.3">60</text>
<text x="96.5" y="459.9" font-family='"Liberation Serif","Times New Roman",serif' font-size="12.4" font-weight="bold" font-style="normal" text-anchor="end" fill="#111"  stroke="#111" stroke-width="0.3">30</text>
<text x="96.5" y="487.9" font-family='"Liberation Serif","Times New Roman",serif' font-size="12.4" font-weight="bold" font-style="normal" text-anchor="end" fill="#111"  stroke="#111" stroke-width="0.3">0</text>
<text x="139.2" y="426.2" font-family='"Liberation Serif","Times New Roman",serif' font-size="11.6" font-weight="bold" font-style="normal" text-anchor="middle" fill="#111"  stroke="#111" stroke-width="0.3">OPC</text>
<polyline points="115.6,482.7 163.5,482.7" fill="none" stroke="#c9c820" stroke-width="2.2" stroke-linecap="round" stroke-linejoin="round"/>
<polyline points="115.6,452.9 139.5,428.5 163.5,432.8" fill="none" stroke="#111" stroke-width="1.7" stroke-linecap="round" stroke-linejoin="round"/>
<text x="139.3" y="493.9" font-family='"Liberation Serif","Times New Roman",serif' font-size="7.3" font-weight="bold" font-style="normal" text-anchor="middle" fill="#111" textLength="68.8" lengthAdjust="spacingAndGlyphs"  stroke="#111" stroke-width="0.3">20DAP 30DAP 40DAP</text>
</svg>
</body></html>
